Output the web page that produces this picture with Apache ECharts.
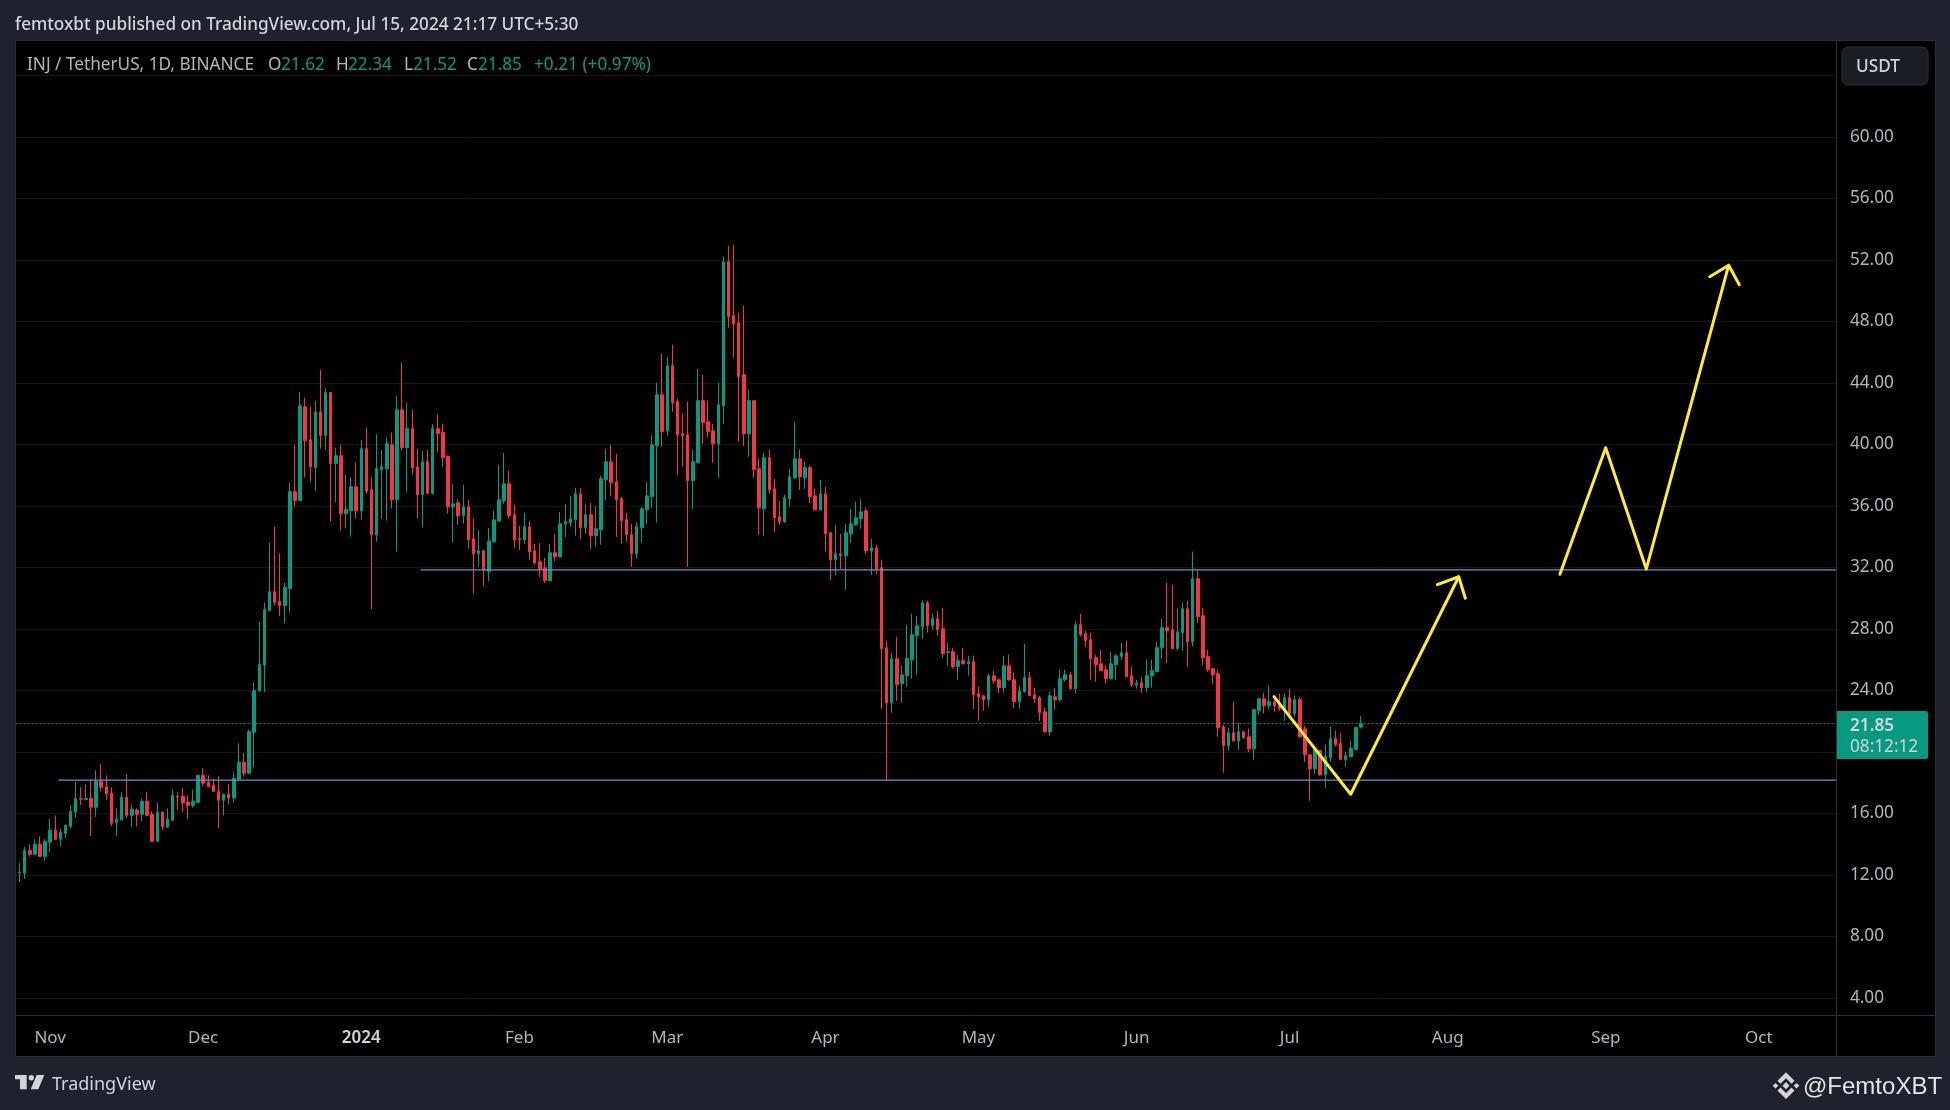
<!DOCTYPE html>
<html>
<head>
<meta charset="utf-8">
<title>INJ / TetherUS</title>
<script src="https://cdn.jsdelivr.net/npm/echarts@6/dist/echarts.min.js"></script>
<style>
html, body { margin: 0; padding: 0; background: #1e222d; }
#chart { width: 1950px; height: 1110px; }
</style>
</head>
<body>
<div id="chart"></div>
<script>
const opens = [
11.82,12.14,12.12,13.61,13.35,14.0,13.21,14.14,14.91,14.33,
14.72,15.16,16.09,16.97,16.90,16.99,16.41,18.09,17.76,17.32,
15.44,15.58,17.06,15.88,16.21,15.95,16.79,15.95,14.19,16.09,
15.12,15.56,17.11,17.11,16.74,16.53,16.72,18.48,18.04,17.83,
17.44,16.86,17.25,17.0,18.23,19.34,18.62,21.29,23.96,25.65,
29.20,30.43,29.78,29.52,30.64,36.93,36.35,42.45,40.31,38.50,
42.12,40.59,43.38,38.76,39.27,35.51,35.70,37.25,35.70,39.73,
37.06,34.14,38.36,38.43,39.99,36.42,42.26,39.80,41.03,38.55,
36.74,38.87,36.83,41.03,40.78,39.22,35.95,36.21,35.36,35.95,
33.87,32.89,33.08,31.74,33.67,35.02,36.34,37.44,35.43,33.87,
33.80,34.65,33.08,32.37,31.98,31.13,32.96,32.69,34.84,34.91,
35.10,36.79,34.58,35.43,34.06,34.45,37.70,38.88,37.57,36.47,
35.10,34.13,32.89,34.58,35.75,36.60,39.92,43.24,40.89,45.12,
42.78,40.70,40.63,37.64,38.81,42.85,41.48,40.89,40.05,42.52,
51.89,48.38,47.92,44.54,40.70,42.85,38.42,35.82,39.14,37.12,
35.30,34.97,36.47,37.83,39.07,37.83,38.49,36.66,35.75,36.79,
34.26,32.50,32.89,32.76,34.19,34.78,35.17,35.69,33.08,33.28,
31.99,26.78,23.20,26.07,24.44,24.96,26.0,27.56,28.15,29.71,
28.21,28.67,28.02,26.46,26.52,25.55,25.94,25.74,25.87,23.79,
23.66,23.40,24.96,24.70,24.18,25.61,24.70,23.27,23.92,24.83,
23.72,23.53,22.62,21.31,23.59,23.40,24.70,25.02,24.11,28.28,
27.69,27.30,26.13,25.74,25.35,24.76,25.68,26.20,26.46,24.96,
24.37,24.50,24.18,24.96,25.22,26.78,28.08,27.95,26.72,27.76,
29.32,27.17,31.27,28.86,26.20,25.42,25.09,21.64,20.40,21.25,
20.73,21.31,20.99,20.21,22.68,23.46,23.01,23.27,23.07,22.68,
23.53,22.49,23.40,21.51,19.82,18.91,20.09,18.53,19.64,20.87,
20.55,19.51,19.70,20.16,21.62
];
const closes = [
12.19,12.19,13.61,13.35,14.0,13.21,14.19,14.91,14.33,14.79,
15.23,16.14,16.97,16.93,16.97,16.41,18.09,17.71,17.27,15.37,
15.63,17.06,15.88,16.28,15.95,16.79,15.88,14.19,16.09,15.12,
15.63,17.18,17.06,16.69,16.53,16.79,18.48,17.97,17.74,17.44,
16.86,17.25,17.0,18.29,19.34,18.62,21.33,24.0,25.70,29.27,
30.43,29.73,29.52,30.71,36.93,36.35,42.52,40.24,38.55,42.12,
40.59,43.38,38.76,39.27,35.51,35.77,37.25,35.70,39.73,36.97,
34.14,38.43,38.55,40.06,36.42,42.26,39.80,41.03,38.50,36.74,
38.87,36.83,41.03,40.71,39.15,35.95,36.14,35.36,35.95,33.80,
32.89,33.08,31.83,33.73,35.10,36.40,37.44,35.36,33.80,33.80,
34.65,33.02,32.30,31.91,31.13,32.96,32.69,34.84,34.97,35.17,
36.79,34.58,35.43,34.06,34.52,37.77,38.88,37.51,36.40,35.04,
34.13,32.89,34.65,35.82,36.66,39.98,43.24,40.83,45.12,42.72,
40.63,40.57,37.64,38.88,42.85,41.41,40.83,40.05,42.59,51.89,
48.31,47.86,44.41,40.70,42.85,38.36,35.88,39.14,37.05,35.23,
34.97,36.53,37.90,39.07,37.90,38.49,36.60,35.75,36.79,34.19,
32.50,32.89,32.76,34.26,34.84,35.23,35.62,33.08,33.28,31.91,
26.72,23.20,26.07,24.37,25.02,26.07,27.63,28.21,29.71,28.21,
28.67,27.95,26.39,26.52,25.55,25.94,25.74,25.87,23.72,23.59,
23.40,24.96,24.63,24.18,25.61,24.70,23.27,23.98,24.83,23.66,
23.46,22.55,21.31,23.66,23.40,24.76,25.02,24.11,28.28,27.63,
27.24,26.07,25.68,25.29,24.76,25.74,26.26,26.46,24.89,24.37,
24.48,24.18,24.96,25.29,26.78,28.08,27.89,26.72,27.82,29.32,
27.17,31.27,28.80,26.13,25.35,25.02,21.58,20.40,21.25,20.73,
21.31,20.92,20.21,22.75,23.46,23.01,23.27,23.01,22.81,23.53,
22.49,23.40,20.99,19.82,18.91,20.14,18.51,19.70,20.87,20.48,
19.51,19.77,20.22,21.59,21.85
];
const highs = [
12.19,12.77,13.82,14.0,14.33,14.51,14.33,15.67,15.88,14.98,
15.30,16.53,18.04,17.71,17.90,18.18,18.81,19.20,18.48,17.71,
16.34,17.39,18.55,16.60,16.34,16.97,17.39,16.14,16.72,16.14,
16.34,17.57,17.39,17.64,17.18,17.57,18.48,18.94,18.48,18.23,
18.41,17.30,17.92,18.73,20.57,19.92,21.47,24.54,28.48,29.71,
33.63,34.65,32.91,31.03,37.53,39.99,43.42,43.05,42.45,42.84,
44.86,43.70,43.40,39.80,39.99,38.04,37.90,38.83,40.31,41.10,
37.85,40.68,39.66,40.45,40.78,43.17,45.32,42.73,42.26,39.73,
39.59,39.66,41.33,41.94,41.36,39.30,37.42,36.45,37.38,36.40,
35.17,34.45,33.15,34.58,35.69,38.68,39.46,38.29,36.08,34.71,
35.56,35.04,33.54,33.60,32.63,33.54,34.19,35.60,36.14,36.66,
37.18,37.18,36.14,36.21,36.01,37.97,39.72,39.98,39.40,36.60,
35.56,34.84,34.97,35.95,37.57,40.63,44.02,45.90,45.71,46.49,
42.98,42.0,42.78,39.66,44.93,44.54,42.85,41.35,44.02,52.22,
52.93,52.99,48.57,49.03,43.56,42.85,39.07,39.46,39.66,37.77,
36.34,36.73,38.42,41.48,39.66,38.88,38.62,37.12,37.71,37.25,
34.26,34.78,34.19,34.84,35.82,36.27,36.47,35.88,33.87,33.48,
32.51,27.24,26.46,27.50,25.61,28.28,28.99,28.86,29.84,29.84,
28.99,29.19,29.38,27.11,26.78,26.33,26.78,26.26,26.26,24.24,
23.72,25.09,25.29,24.76,26.26,26.33,25.15,24.31,27.04,25.22,
24.18,23.66,22.88,23.92,24.18,25.35,25.35,25.22,28.47,28.99,
27.89,27.76,26.33,26.65,25.61,26.52,26.39,27.11,27.24,25.55,
24.70,24.89,26.0,26.0,27.17,28.67,31.01,30.88,29.32,29.71,
29.84,33.03,31.79,29.38,26.65,25.48,25.35,21.77,21.58,23.27,
21.90,21.38,21.51,22.81,23.53,23.85,24.31,23.66,23.79,23.79,
24.11,23.66,23.59,21.71,19.82,20.40,20.14,20.48,21.65,21.39,
21.20,20.03,20.74,21.65,22.34
];
const lows = [
11.82,11.54,11.75,13.19,13.28,13.21,12.89,13.49,14.26,13.86,
14.40,15.05,15.72,16.55,16.86,14.54,15.77,17.44,16.88,15.18,
14.51,15.56,15.72,15.14,15.16,15.49,15.88,14.19,14.19,14.91,
15.05,15.49,16.21,16.09,15.63,16.37,16.67,17.76,17.71,17.39,
15.05,15.88,16.60,16.69,18.23,18.41,18.57,19.0,23.96,23.89,
29.20,29.52,28.83,28.36,29.08,35.95,36.35,37.85,37.57,36.99,
39.73,39.66,34.98,36.23,34.40,34.54,34.0,35.19,35.12,36.81,
29.27,33.68,35.19,35.05,35.84,33.03,39.59,36.88,38.04,35.19,
34.61,36.74,36.74,39.48,38.55,35.51,33.63,34.78,34.84,33.22,
30.31,32.04,30.81,31.13,33.63,34.97,36.14,35.17,33.28,33.15,
33.54,32.50,32.17,31.39,31.0,31.13,32.43,32.69,33.99,34.65,
34.06,33.87,34.19,33.22,33.35,33.48,36.40,36.66,33.99,33.54,
33.67,32.04,32.56,33.60,34.84,35.88,34.91,39.85,40.57,42.13,
38.03,38.55,32.04,35.82,38.81,40.05,40.44,38.81,37.83,41.35,
47.60,45.64,40.18,39.92,39.20,37.83,34.13,34.06,36.79,34.32,
34.78,34.91,35.95,37.77,37.05,37.12,36.21,35.69,35.69,33.02,
31.20,31.52,31.91,30.55,33.60,34.71,34.52,32.89,31.52,31.59,
22.81,18.17,22.55,23.33,23.20,24.24,24.76,25.02,27.37,27.76,
27.95,27.56,26.13,25.61,25.42,24.70,25.68,24.96,22.81,22.03,
22.68,22.94,24.44,23.85,23.85,24.63,22.88,22.81,23.85,23.66,
23.20,22.03,21.25,21.05,22.75,23.27,24.57,24.05,23.79,27.50,
26.85,24.70,24.57,25.29,24.44,24.76,24.70,26.0,24.89,24.24,
24.11,23.85,23.92,24.18,25.22,26.07,25.81,26.72,26.59,26.59,
25.55,26.85,28.41,25.68,25.22,24.44,20.99,18.65,20.08,20.66,
20.14,20.86,20.01,19.49,22.42,22.49,22.75,22.62,22.68,22.03,
22.42,22.29,20.92,19.36,16.83,18.58,18.47,17.69,19.38,20.35,
19.51,19.05,19.64,20.16,21.52
];

const monthDates = ['2023-11-01','2023-12-01','2024-01-01','2024-02-01','2024-03-01','2024-04-01','2024-05-01','2024-06-01','2024-07-01','2024-08-01','2024-09-01','2024-10-01'];
const monthLabels = ['Nov','Dec','2024','Feb','Mar','Apr','May','Jun','Jul','Aug','Sep','Oct'];
const gridTicks = [4,8,12,16,20,24,28,32,36,40,44,48,52,56,60,64];
const labelTicks = [4,8,12,16,24,28,32,36,40,44,48,52,56,60];

const lastPrice = 21.85;
// drawings, [bar number, price]
const upperLevel = [[79.77,31.84],[357.22,31.84]];
const lowerLevel = [[8.73,18.17],[357.22,18.17]];
const arrowOne = [[246.95,23.60],[261.98,17.25],[283.16,31.40]];
const arrowOneHead = [[278.96,30.88],[283.16,31.40],[284.45,30.0]];
const arrowTwo = [[303.0,31.56],[311.97,39.79],[319.93,31.90],[336.09,51.66]];
const arrowTwoHead = [[332.37,50.91],[336.09,51.66],[338.17,50.39]];

const UP = '#089981', DOWN = '#F23645', YELLOW = '#FFEB3B', BLUE = '#6b93cc';
const PANEL = '#1e222d', EDGE = '#2a2e39', TEXT = '#b2b5be', LIGHT = '#d1d4dc';
const FONT = '"Noto Sans"';
const BAR_COUNT = 358;
const RIGHT_BAR = 357.22;

// one slot per calendar day, the chart keeps running past the last candle
const days = [];
for (let i = 0; i < BAR_COUNT; i++) {
    days.push(new Date(Date.UTC(2023, 9, 25 + i)).toISOString().slice(0, 10));
}
const candles = opens.map((o, i) => [o, closes[i], lows[i], highs[i]]);

function label(text, x, y, fill, font) {
    return {type: 'text', z: 110, silent: true, style: {text, x, y, fill, font: font || '17.2px ' + FONT, verticalAlign: 'middle'}};
}
function poly(points, fill) {
    return {type: 'polygon', z: 110, silent: true, shape: {points}, style: {fill}};
}
function diamond(cx, cy, r, fill) {
    return poly([[cx, cy - r], [cx + r, cy], [cx, cy + r], [cx - r, cy]], fill);
}
function drawing(data, color, width, z, type) {
    return {
        type: 'line', xAxisIndex: 1, data, symbol: 'none', silent: true, z,
        lineStyle: {color, width, type: type || 'solid', cap: 'round', join: 'round'}
    };
}

const frame = [
    {type: 'rect', z: -1, silent: true, shape: {x: 16, y: 41, width: 1919, height: 1015}, style: {fill: '#000'}},
    {type: 'rect', z: 100, silent: true, shape: {x: 0, y: 0, width: 16, height: 1110}, style: {fill: PANEL}},
    {type: 'rect', z: 101, silent: true, shape: {x: 15.5, y: 40.5, width: 1920, height: 1016}, style: {fill: 'none', stroke: EDGE, lineWidth: 1}},
    {type: 'line', z: 101, silent: true, shape: {x1: 1836.5, y1: 41, x2: 1836.5, y2: 1056}, style: {stroke: EDGE, lineWidth: 1}},
    {type: 'line', z: 101, silent: true, shape: {x1: 16, y1: 1015.5, x2: 1935, y2: 1015.5}, style: {stroke: EDGE, lineWidth: 1}},
    {type: 'rect', z: 105, silent: true, shape: {x: 1842, y: 47, width: 86, height: 38, r: 6}, style: {fill: '#1a1d23', stroke: EDGE, lineWidth: 1}},
    {type: 'rect', z: 105, silent: true, shape: {x: 1837, y: 711, width: 91, height: 48, r: [0, 2, 2, 0]}, style: {fill: UP}}
];

const texts = [
    label('femtoxbt published on TradingView.com, Jul 15, 2024 21:17 UTC+5:30', 15, 25, LIGHT, '500 17.2px ' + FONT),
    label('INJ / TetherUS, 1D, BINANCE', 27, 65, TEXT),
    label('O', 268, 65, TEXT), label('21.62', 281, 65, UP),
    label('H', 336, 65, TEXT), label('22.34', 348, 65, UP),
    label('L', 404, 65, TEXT), label('21.52', 413, 65, UP),
    label('C', 467, 65, TEXT), label('21.85', 478, 65, UP),
    label('+0.21 (+0.97%)', 534, 65, UP),
    label('USDT', 1856, 67, LIGHT, '500 17.2px ' + FONT),
    label('21.85', 1850, 726, LIGHT, '600 17.2px ' + FONT),
    label('08:12:12', 1850, 747, LIGHT, '17.2px ' + FONT),
    label('TradingView', 52, 1085, LIGHT, '18px ' + FONT),
    label('@FemtoXBT', 1803, 1087, '#e4e4e4', '24px "Liberation Sans"')
];

const tvLogo = [
    poly([[15, 1075], [26.7, 1075], [26.7, 1089.3], [20, 1089.3], [20, 1079.3], [15, 1079.3]], LIGHT),
    {type: 'circle', z: 110, silent: true, shape: {cx: 31.3, cy: 1077.7, r: 2.7}, style: {fill: LIGHT}},
    poly([[36.7, 1075], [44.3, 1075], [38.3, 1089.3], [30.7, 1089.3]], LIGHT)
];
const markFill = '#d4d4d4';
const bnbLogo = [
    diamond(1786, 1085.7, 3.6, markFill),
    diamond(1775.5, 1085.7, 2.8, markFill),
    diamond(1796.5, 1085.7, 2.8, markFill),
    poly([[1786, 1072.3], [1794.5, 1080.8], [1791.5, 1083.8], [1786, 1078.3], [1780.5, 1083.8], [1777.5, 1080.8]], markFill),
    poly([[1786, 1099.1], [1794.5, 1090.6], [1791.5, 1087.6], [1786, 1093.1], [1780.5, 1087.6], [1777.5, 1090.6]], markFill)
];

const chart = echarts.init(document.getElementById('chart'));
chart.setOption({
    animation: false,
    backgroundColor: PANEL,
    textStyle: {fontFamily: FONT},
    grid: {left: 11.9, top: 41, width: 1826, height: 974},
    xAxis: [
        {
            type: 'category',
            data: days,
            axisLine: {show: false},
            axisTick: {show: false},
            splitLine: {show: false},
            axisLabel: {
                color: TEXT,
                fontSize: 17,
                margin: 15,
                hideOverlap: false,
                interval: (index, value) => monthDates.includes(value),
                formatter: value => {
                    const text = monthLabels[monthDates.indexOf(value)];
                    return text === '2024' ? '{year|' + text + '}' : text;
                },
                rich: {year: {color: LIGHT, fontSize: 17, fontWeight: 600}}
            }
        },
        {type: 'value', show: false, min: -0.5, max: BAR_COUNT - 0.5}
    ],
    yAxis: {
        type: 'value',
        position: 'right',
        min: 2.894,
        max: 66.244,
        axisLine: {show: false},
        axisTick: {show: false, customValues: gridTicks},
        splitLine: {show: true, lineStyle: {color: '#151515', width: 1}},
        axisLabel: {
            customValues: labelTicks,
            color: TEXT,
            fontSize: 17.2,
            margin: 12,
            padding: [5, 0, 0, 0],
            align: 'left',
            formatter: value => value.toFixed(2)
        }
    },
    series: [
        drawing([[-0.5, lastPrice], [RIGHT_BAR, lastPrice]], UP, 1, 1, [1, 3]),
        {
            type: 'candlestick',
            data: candles,
            barWidth: 3,
            z: 2,
            silent: true,
            itemStyle: {color: UP, color0: DOWN, borderColor: UP, borderColor0: DOWN, borderWidth: 1}
        },
        drawing(upperLevel, BLUE, 1.2, 3),
        drawing(lowerLevel, BLUE, 1.2, 3),
        drawing(arrowOne, YELLOW, 3, 4),
        drawing(arrowOneHead, YELLOW, 3, 4),
        drawing(arrowTwo, YELLOW, 3, 4),
        drawing(arrowTwoHead, YELLOW, 3, 4)
    ],
    graphic: {elements: [...frame, ...texts, ...tvLogo, ...bnbLogo]}
});
</script>
</body>
</html>
